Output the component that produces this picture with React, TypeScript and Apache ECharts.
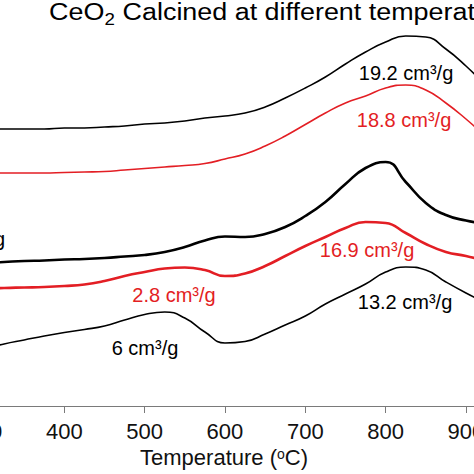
import React, { useEffect, useRef } from "react";
import * as echarts from "echarts";

const FONT = "'Liberation Sans', Arial, sans-serif";
const RED = "#e31e24";

const xTicks = [300, 400, 500, 600, 700, 800, 900];

// Shared temperature samples (°C)
const temps = [300, 325, 350, 375, 400, 425, 450, 475, 500, 525, 550, 575, 600, 625, 650, 675, 700, 725, 750, 775, 800, 825, 850, 875, 900, 925];

// Top black trace (19.2 cm3/g)
const sigA = [27.7, 27.7, 27.7, 27.7, 27.8, 27.8, 27.9, 28.0, 28.2, 28.3, 28.5, 28.8, 29.0, 29.3, 29.9, 30.8, 31.8, 32.9, 34.2, 35.4, 36.4, 37.0, 36.9, 35.7, 34.0, 32.0];
// Thin red trace (18.8 cm3/g)
const sigB = [23.3, 23.3, 23.3, 23.3, 23.35, 23.4, 23.45, 23.6, 23.75, 23.9, 24.05, 24.25, 24.7, 25.2, 26.0, 27.0, 28.15, 29.3, 30.3, 31.0, 31.8, 32.1, 31.6, 30.3, 28.7, 26.9];
// Thick black trace
const sigC = [14.3, 14.4, 14.5, 14.55, 14.65, 14.7, 14.8, 14.95, 15.1, 15.4, 15.9, 16.55, 16.95, 16.9, 17.2, 17.9, 19.0, 20.4, 22.2, 23.8, 24.4, 22.4, 20.3, 19.1, 18.55, 18.2];
// Thick red trace (2.8 / 16.9 cm3/g)
const sigD = [11.7, 11.8, 11.85, 11.9, 12.0, 12.15, 12.5, 13.0, 13.4, 13.75, 13.85, 13.6, 13.0, 13.25, 14.0, 15.0, 16.0, 16.9, 17.8, 18.4, 18.3, 17.3, 16.2, 15.4, 15.0, 14.5];
// Bottom black trace (6 / 13.2 cm3/g)
const sigE = [5.7, 6.2, 6.6, 7.0, 7.35, 7.65, 8.0, 8.6, 9.15, 9.4, 8.8, 7.4, 6.3, 6.45, 7.2, 8.1, 9.0, 10.2, 11.2, 12.2, 13.4, 13.9, 13.6, 12.4, 11.3, 10.3];

const pair = (s: number[]) => temps.map((t, i) => [t, s[i]]);

export default function App() {
  const ref = useRef<HTMLDivElement>(null);
  useEffect(() => {
    if (!ref.current) return;
    const chart = echarts.init(ref.current, null, { renderer: "svg" });
    const line = (name: string, data: number[][], color: string, width: number) => ({
      name,
      type: "line",
      data,
      smooth: 0.5,
      symbol: "none",
      lineStyle: { color, width },
      clip: true,
    });
    const label = (text: string, x: number, y: number, color: string, align = "center") => ({
      type: "text",
      x,
      y,
      style: {
        text,
        fill: color,
        fontSize: 20,
        fontFamily: FONT,
        align,
        verticalAlign: "middle",
      },
    });
    chart.setOption({
      animation: false,
      backgroundColor: "#ffffff",
      grid: { left: -16, right: 0, top: 0, bottom: 68, containLabel: false, outerBoundsMode: "none" },
      xAxis: {
        type: "value",
        min: 300,
        max: 910,
        interval: 100,
        name: "{n|Temperature (}{s|o}{n|C)}",
        nameLocation: "middle",
        nameGap: 34,
        nameTextStyle: {
          padding: [0, 10, 0, 0],
          rich: {
            n: { fontSize: 22, fontFamily: FONT, color: "#111", verticalAlign: "top", lineHeight: 24 },
            s: { fontSize: 14, fontFamily: FONT, color: "#111", verticalAlign: "top", lineHeight: 14 },
          },
        },
        axisLine: { lineStyle: { color: "#7a7a7a", width: 1 } },
        axisTick: { length: 7, lineStyle: { color: "#7a7a7a" }, customValues: xTicks },
        axisLabel: { customValues: xTicks, fontSize: 22, fontFamily: FONT, color: "#111", margin: 14 },
        splitLine: { show: false },
      },
      yAxis: { type: "value", min: 0, max: 40.6, show: false },
      series: [
        line("A", pair(sigA), "#000", 1.6),
        line("B", pair(sigB), RED, 1.6),
        line("C", pair(sigC), "#000", 2.6),
        line("D", pair(sigD), RED, 2.6),
        line("E", pair(sigE), "#000", 1.6),
      ],
      graphic: [
        {
          type: "group",
          x: 49,
          y: 0,
          scaleX: 1.17,
          children: [
            { type: "text", x: 0, y: 12, style: { text: "CeO", fontSize: 23, fontFamily: FONT, fill: "#000", verticalAlign: "middle" } },
            { type: "text", x: 47.5, y: 19, style: { text: "2", fontSize: 16, fontFamily: FONT, fill: "#000", verticalAlign: "middle" } },
            { type: "text", x: 56.5, y: 12, style: { text: " Calcined at different temperatures", fontSize: 23, fontFamily: FONT, fill: "#000", verticalAlign: "middle" } },
          ],
        },
        label("19.2 cm³/g", 406, 73, "#000"),
        label("18.8 cm³/g", 404, 120, RED),
        label("16.9 cm³/g", 367, 250, RED),
        label("13.2 cm³/g", 405, 302, "#000"),
        label("2.8 cm³/g", 174, 295, RED),
        label("6 cm³/g", 145, 348, "#000"),
        label("cm³/g", 5, 239, "#000", "right"),
      ],
    });
    return () => chart.dispose();
  }, []);
  return <div ref={ref} style={{ position: "absolute", left: 0, top: 0, width: 474, height: 474 }} />;
}
